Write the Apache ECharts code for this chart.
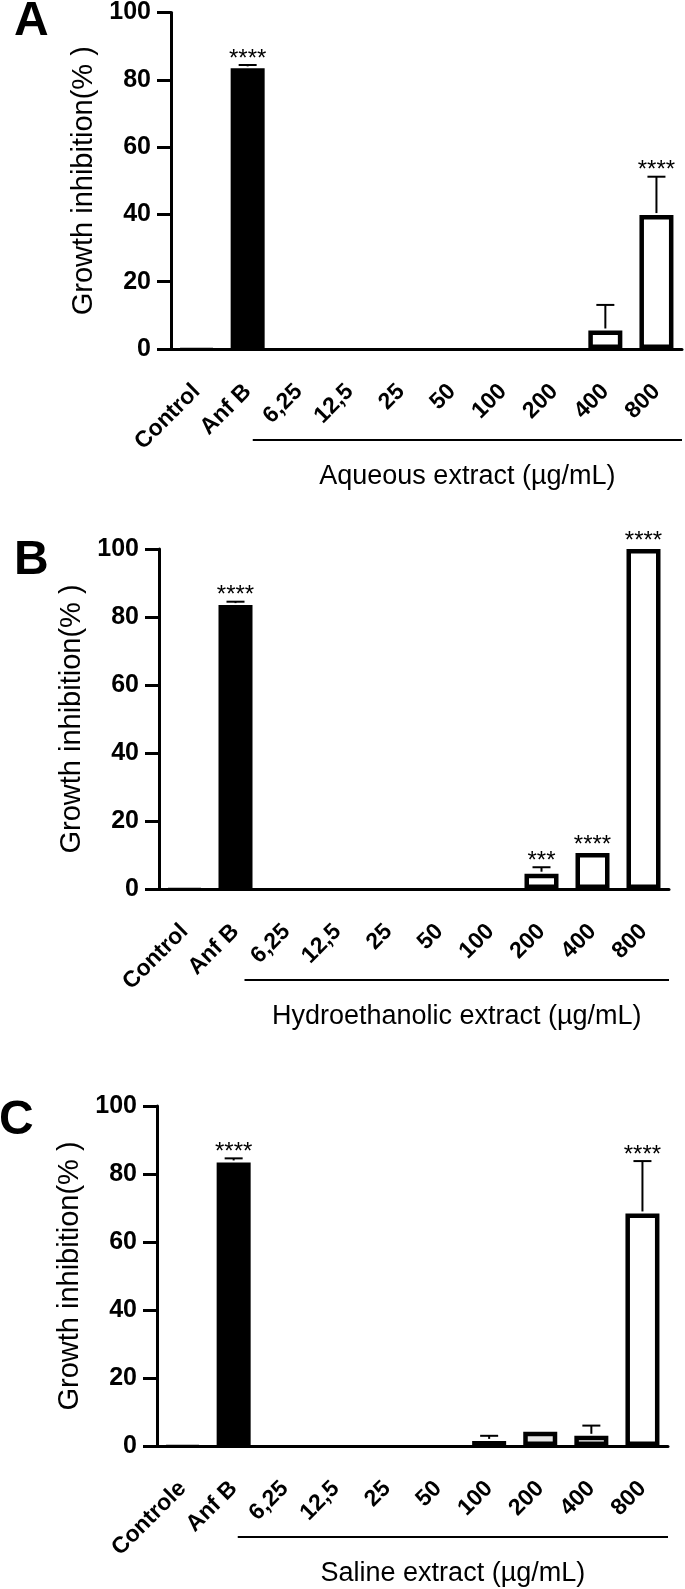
<!DOCTYPE html>
<html>
<head>
<meta charset="utf-8">
<script src="https://cdn.jsdelivr.net/npm/echarts@6/dist/echarts.min.js"></script>
<style>
html, body { margin: 0; padding: 0; background: #fff; }
#main { width: 685px; height: 1589px; }
</style>
</head>
<body>
<div id="main"></div>
<script>
// categories
const labelsAB = ['Control', 'Anf B', '6,25', '12,5', '25', '50', '100', '200', '400', '800'];
const labelsC = ['Controle', 'Anf B', '6,25', '12,5', '25', '50', '100', '200', '400', '800'];
const yTicks = [0, 20, 40, 60, 80, 100];

// A - aqueous extract
const aqueousMean = [0.3, 83.4, 0, 0, 0, 0, 0, 0, 5.5, 39.8];
const aqueousErr = [0, 1.0, 0, 0, 0, 0, 0, 0, 7.6, 11.4];
const aqueousSig = ['', '****', '', '', '', '', '', '', '', '****'];

// B - hydroethanolic extract
const hydroMean = [0.3, 83.5, 0.2, 0.2, 0.2, 0.2, 0.2, 4.5, 10.6, 100];
const hydroErr = [0, 1.0, 0, 0, 0, 0, 0, 1.9, 0, 0];
const hydroSig = ['', '****', '', '', '', '', '', '***', '****', '****'];

// C - saline extract
const salineMean = [0.3, 83.4, 0, 0, 0, 0, 1.5, 4.2, 3.0, 68.4];
const salineErr = [0, 1.2, 0, 0, 0, 0, 1.5, 0, 3.0, 15.4];
const salineSig = ['', '****', '', '', '', '', '', '', '', '****'];

const FONT = "'Liberation Sans', Arial, sans-serif";

const panels = [
    { letter: 'A', cats: labelsAB, mean: aqueousMean, err: aqueousErr, sig: aqueousSig,
      name: 'Aqueous extract (\u00b5g/mL)', grid: { left: 171, top: 8, width: 511, height: 341 },
      nameGap: 70, lineStart: 46, letterX: 14, letterY: 22 },
    { letter: 'B', cats: labelsAB, mean: hydroMean, err: hydroErr, sig: hydroSig,
      name: 'Hydroethanolic extract (\u00b5g/mL)', grid: { left: 159, top: 549, width: 510, height: 340 },
      nameGap: 66, lineStart: 42, letterX: 14, letterY: 561 },
    { letter: 'C', cats: labelsC, mean: salineMean, err: salineErr, sig: salineSig,
      name: 'Saline extract (\u00b5g/mL)', grid: { left: 157, top: 1106, width: 511, height: 340 },
      nameGap: 65, lineStart: 47, letterX: -1, letterY: 1121 }
];

function fillFor(p, i) {
    if (i === 1) return '#000';
    if (p === 2 && i === 7) return '#e6e6e6';
    return '#fff';
}

const grids = [], xAxes = [], yAxes = [], series = [];

panels.forEach((p, k) => {
    grids.push(p.grid);
    xAxes.push({
        type: 'category',
        gridIndex: k,
        data: p.cats,
        axisLine: { lineStyle: { color: '#000', width: 3 } },
        axisTick: { alignWithLabel: true, length: 14, lineStyle: { color: '#000', width: 3 } },
        axisLabel: { interval: 0, rotate: 45, margin: 39, color: '#000', fontWeight: 'bold', fontSize: 23, fontFamily: FONT }
    });
    yAxes.push({
        type: 'value',
        gridIndex: k,
        min: yTicks[0],
        max: yTicks[yTicks.length - 1],
        interval: yTicks[1] - yTicks[0],
        name: 'Growth inhibition(% )',
        nameLocation: 'middle',
        nameGap: p.nameGap,
        nameTextStyle: { color: '#000', fontSize: 29, fontFamily: FONT },
        axisLine: { show: true, lineStyle: { color: '#000', width: 3 } },
        axisTick: { show: true, length: 14, lineStyle: { color: '#000', width: 3 } },
        axisLabel: { margin: 20, color: '#000', fontWeight: 'bold', fontSize: 25, fontFamily: FONT },
        splitLine: { show: false }
    });
    series.push({
        type: 'bar',
        xAxisIndex: k,
        yAxisIndex: k,
        barWidth: 34,
        data: p.mean.map((v, i) => ({
            value: v,
            itemStyle: {
                color: fillFor(k, i),
                borderColor: '#000',
                borderWidth: v === 0 ? 0 : (v < 1 ? 1.5 : 4.5)
            }
        }))
    });
    // error bars + significance stars
    series.push({
        type: 'custom',
        xAxisIndex: k,
        yAxisIndex: k,
        clip: false,
        z: 5,
        data: p.mean.map((v, i) => [i, v + p.err[i]]),
        renderItem: function (params, api) {
            const i = params.dataIndex;
            const base = api.coord([i, p.mean[i]]);
            const top = api.coord([i, p.mean[i] + p.err[i]]);
            const children = [];
            let ty = top[1];
            if (p.err[i] > 0) {
                children.push({ type: 'line', shape: { x1: base[0], y1: base[1] - 2, x2: top[0], y2: top[1] },
                    style: { stroke: '#000', lineWidth: 2 } });
                children.push({ type: 'line', shape: { x1: top[0] - 9, y1: top[1], x2: top[0] + 9, y2: top[1] },
                    style: { stroke: '#000', lineWidth: 2 } });
            } else {
                ty -= 2;
            }
            if (p.sig[i]) {
                children.push({ type: 'text', x: top[0], y: ty - 6,
                    style: { text: p.sig[i], align: 'center', verticalAlign: 'middle', fill: '#000',
                        font: '24px ' + FONT } });
            }
            return { type: 'group', children: children };
        }
    });
});

const chart = echarts.init(document.getElementById('main'));
chart.setOption({
    animation: false,
    backgroundColor: '#fff',
    grid: grids,
    xAxis: xAxes,
    yAxis: yAxes,
    series: series
});

// panel letters, group underline and extract names
const graphic = [];
panels.forEach((p, k) => {
    const x0 = chart.convertToPixel({ xAxisIndex: k }, 2) - p.lineStart;
    const x1 = p.grid.left + p.grid.width;
    const axisY = p.grid.top + p.grid.height;
    graphic.push({ type: 'text', x: p.letterX, y: p.letterY,
        style: { text: p.letter, verticalAlign: 'middle', font: 'bold 48px ' + FONT, fill: '#000' } });
    graphic.push({ type: 'line', shape: { x1: x0, y1: axisY + 91, x2: x1, y2: axisY + 91 },
        style: { stroke: '#000', lineWidth: 2 } });
    graphic.push({ type: 'text', x: (x0 + x1) / 2, y: axisY + 128,
        style: { text: p.name, align: 'center', verticalAlign: 'middle', font: '27px ' + FONT, fill: '#000' } });
});
chart.setOption({ graphic: graphic });
</script>
</body>
</html>
